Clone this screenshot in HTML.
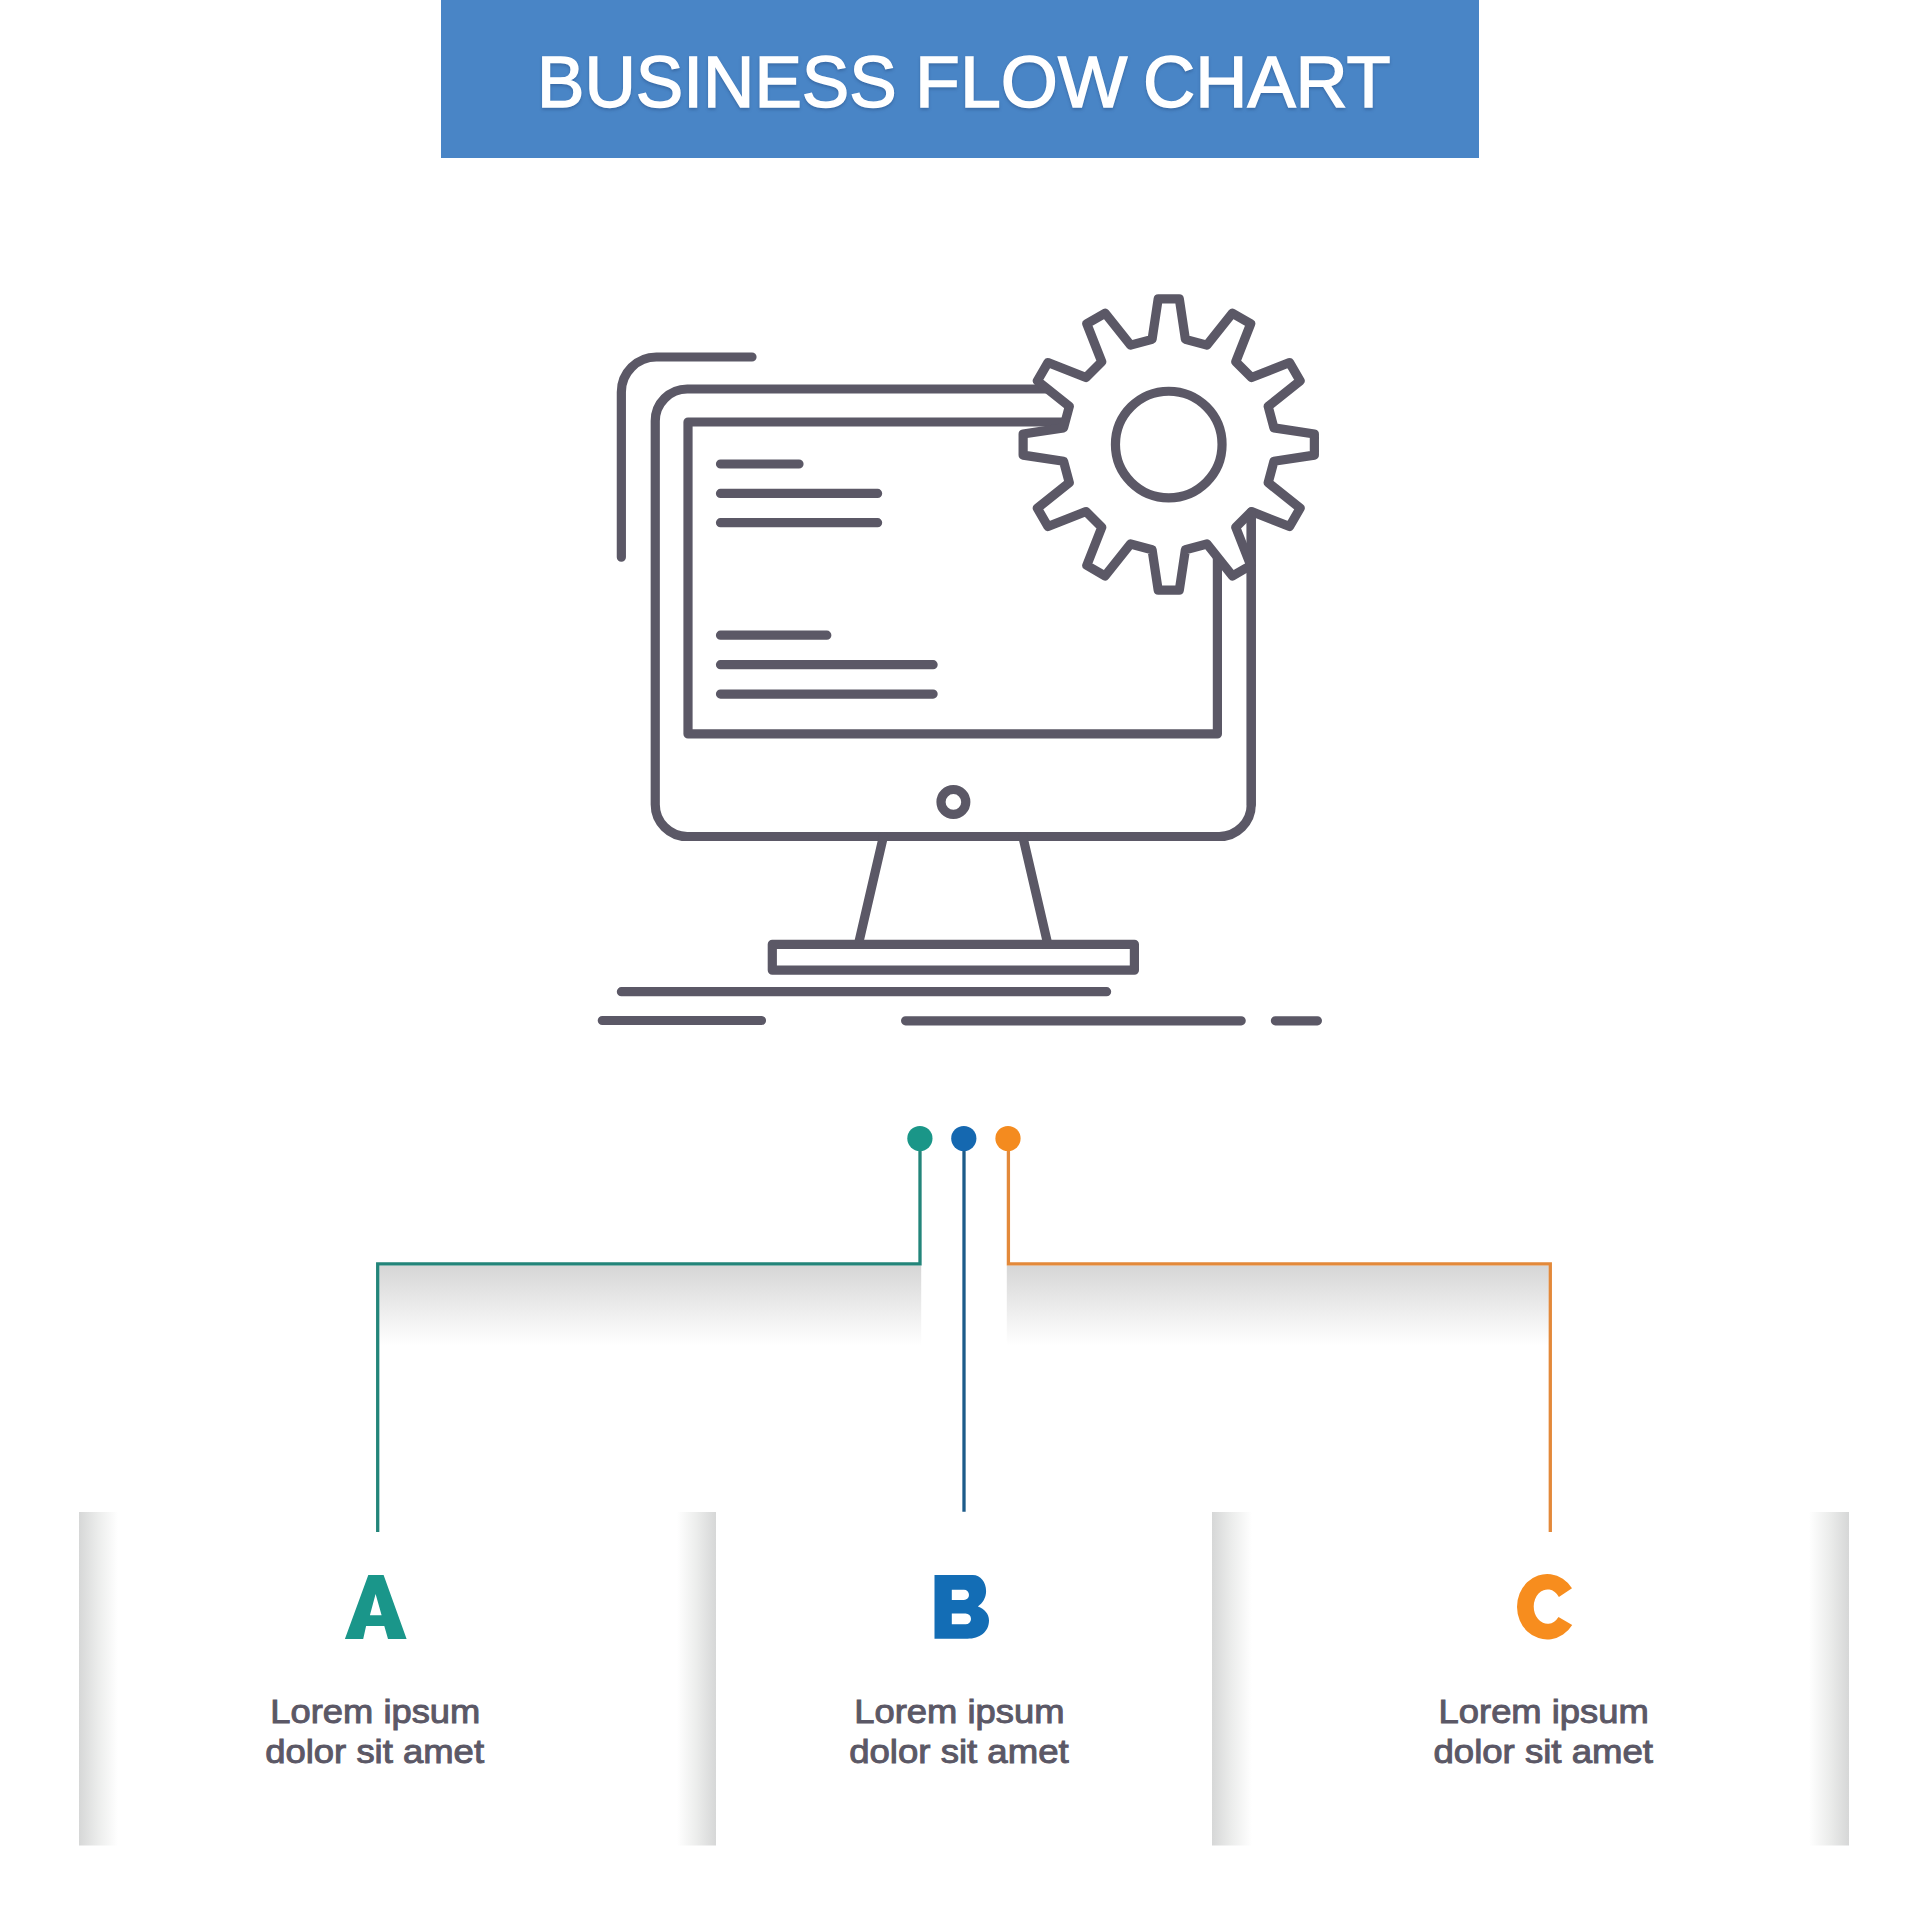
<!DOCTYPE html>
<html><head><meta charset="utf-8">
<style>
html,body{margin:0;padding:0;background:#fff;}
body{width:1920px;height:1920px;overflow:hidden;position:relative;}
svg{position:absolute;left:0;top:0;}
text{font-family:"Liberation Sans",sans-serif;}
</style></head><body>
<svg width="1920" height="1920" viewBox="0 0 1920 1920">
<defs>
<linearGradient id="gv" x1="0" y1="0" x2="0" y2="1">
<stop offset="0" stop-color="#d6d6d6"/><stop offset="1" stop-color="#ffffff"/>
</linearGradient>
<linearGradient id="gl" x1="0" y1="0" x2="1" y2="0">
<stop offset="0" stop-color="#d6d7d7"/><stop offset="0.5" stop-color="#ecedec"/><stop offset="1" stop-color="#ffffff"/>
</linearGradient>
<linearGradient id="gr" x1="0" y1="0" x2="1" y2="0">
<stop offset="0" stop-color="#ffffff"/><stop offset="0.5" stop-color="#ecedec"/><stop offset="1" stop-color="#d6d7d7"/>
</linearGradient>
</defs>
<rect x="0" y="0" width="1920" height="1920" fill="#ffffff"/>
<!-- banner -->
<rect x="441" y="0" width="1038" height="158" fill="#4985c6"/>
<g font-size="72" fill="#ffffff" stroke="#ffffff" stroke-width="1.5" style="filter:drop-shadow(0px 2px 1.5px rgba(30,60,110,0.35))">
<text transform="translate(537.06,107) scale(0.988,1)">BUSINESS</text>
<text transform="translate(915.1,107) scale(1.02,1)">FLOW</text>
<text transform="translate(1143,107) scale(1.004,1)">CHART</text>
</g>
<!-- icon -->
<g fill="none" stroke="#5b5866" stroke-width="9.2" stroke-linecap="round" stroke-linejoin="round">
<path d="M621.35 557.2 V392 A35 35 0 0 1 656.35 357 H752"/>
<rect x="655.25" y="389" width="596" height="447.5" rx="32" ry="32"/>
<rect x="688" y="422" width="529.4" height="311.9"/>
<circle cx="953.4" cy="801.9" r="12.4"/>
<path d="M883.4 836.5 L858.4 944.3 M1022.8 836.5 L1047.8 944.3"/>
<rect x="772.3" y="944.3" width="362.1" height="25.9"/>
<path d="M621.4 991.7 H1106.6 M602.3 1020.5 H761.5 M905.6 1020.8 H1241.2 M1275.4 1020.8 H1317.4"/>
<path d="M720.5 464 H799 M720.5 493.4 H877.6 M720.5 522.7 H877.6 M720.5 635.2 H826.8 M720.5 664.7 H933.1 M720.5 694.1 H933.1"/>
<path d="M1152.09 339.36 L1158.18 298.93 L1179.32 298.93 L1185.41 339.36 L1206.92 345.12 L1232.41 313.16 L1250.71 323.72 L1235.77 361.78 L1251.52 377.53 L1289.58 362.59 L1300.14 380.89 L1268.18 406.38 L1273.94 427.89 L1314.37 433.98 L1314.37 455.12 L1273.94 461.21 L1268.18 482.72 L1300.14 508.21 L1289.58 526.51 L1251.52 511.57 L1235.77 527.32 L1250.71 565.38 L1232.41 575.94 L1206.92 543.98 L1185.41 549.74 L1179.32 590.17 L1158.18 590.17 L1152.09 549.74 L1130.58 543.98 L1105.09 575.94 L1086.79 565.38 L1101.73 527.32 L1085.98 511.57 L1047.92 526.51 L1037.36 508.21 L1069.32 482.72 L1063.56 461.21 L1023.13 455.12 L1023.13 433.98 L1063.56 427.89 L1069.32 406.38 L1037.36 380.89 L1047.92 362.59 L1085.98 377.53 L1101.73 361.78 L1086.79 323.72 L1105.09 313.16 L1130.58 345.12 Z" fill="#ffffff"/>
<circle cx="1168.75" cy="444.55" r="53.3"/>
<path d="M1251.25 512 V804.5"/>
</g>

<!-- connectors -->
<rect x="379.2" y="1265.4" width="542" height="80" fill="url(#gv)"/>
<rect x="1006.8" y="1265.4" width="542" height="80" fill="url(#gv)"/>
<g fill="none" stroke-width="3.3">
<path d="M920 1138.5 V1263.8 H377.7 V1531.9" stroke="#23857a"/>
<path d="M964 1138.5 V1511.7" stroke="#1d5b8a"/>
<path d="M1008.4 1138.5 V1263.8 H1550.3 V1531.9" stroke="#e3893a"/>
</g>
<circle cx="919.9" cy="1138.5" r="12.6" fill="#1a9688"/>
<circle cx="963.8" cy="1138.5" r="12.6" fill="#1568b0"/>
<circle cx="1008" cy="1138.5" r="12.6" fill="#f48b1f"/>

<!-- panels -->
<rect x="79" y="1512" width="39" height="333.5" fill="url(#gl)"/>
<rect x="677" y="1512" width="39" height="333.5" fill="url(#gr)"/>
<rect x="1212" y="1512" width="40" height="333.5" fill="url(#gl)"/>
<rect x="1809" y="1512" width="40" height="333.5" fill="url(#gr)"/>

<path fill="#1a968a" fill-rule="evenodd" d="M368.3 1575.1 L383.6 1575.1 L406.6 1638.9 L388.0 1638.9 L384.3 1626.1 L366.1 1626.1 L363.2 1638.9 L344.9 1638.9 Z M375.6 1594.0 L381.6 1615.2 L369.9 1615.2 Z"/>
<path fill="#136db5" fill-rule="evenodd" d="M934.5 1575 H972.8 C980.5 1575 986.1 1582 986.1 1591.1 C986.1 1598 982.5 1603.5 977.9 1606.4 C984.5 1609 989 1613.5 989 1620.5 C989 1632 979.5 1638.7 967.5 1638.7 H934.5 Z M951.8 1589.8 H964 A5 5.1 0 0 1 969 1594.9 A5 5.1 0 0 1 964 1600 H951.8 Z M951.8 1613.5 H965.6 A5.4 5.4 0 0 1 971 1618.9 A5.4 5.4 0 0 1 965.6 1624.3 H951.8 Z"/>
<path fill="#f78d1e" d="M1572 1588.2 A30.15 32.75 0 1 0 1572.2 1625 L1558.5 1617 A13.8 17.15 0 1 1 1558.9 1596.9 Z"/>
<g font-size="34" fill="#5b5866" stroke="#5b5866" stroke-width="1.0">
<text transform="translate(270.36,1723) scale(1.0687,1)">Lorem ipsum</text>
<text transform="translate(265.18,1763) scale(1.0723,1)">dolor sit amet</text>
<text transform="translate(854.26,1723) scale(1.07,1)">Lorem ipsum</text>
<text transform="translate(849.2,1763) scale(1.0755,1)">dolor sit amet</text>
<text transform="translate(1438.56,1723) scale(1.07,1)">Lorem ipsum</text>
<text transform="translate(1433.5,1763) scale(1.0755,1)">dolor sit amet</text>
</g>
</svg>
</body></html>
